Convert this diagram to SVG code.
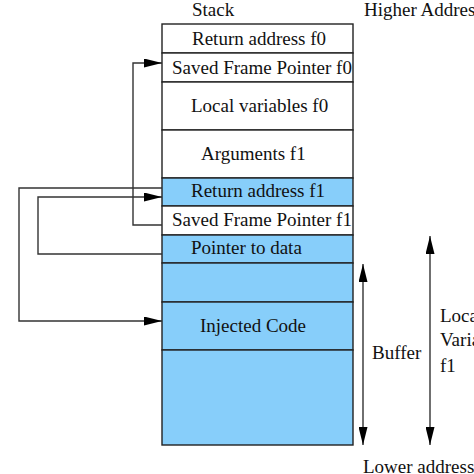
<svg xmlns="http://www.w3.org/2000/svg" width="474" height="474" viewBox="0 0 474 474">
<defs>
<marker id="ah" markerUnits="userSpaceOnUse" markerWidth="18" markerHeight="9" refX="18" refY="4.5" orient="auto-start-reverse" viewBox="0 0 18 9">
<path d="M0,0 L18,4.5 L0,9 z" fill="#000"/>
</marker>
</defs>
<style>
text{font-family:"Liberation Serif","Times New Roman",serif;font-size:19px;fill:#111}
.cell{stroke:#222;stroke-width:1.4}
.w{fill:#fff}
.b{fill:#87cefa}
.con{fill:none;stroke:#333;stroke-width:1.4}
</style>
<rect width="474" height="474" fill="#fff"/>
<text x="192" y="16">Stack</text>
<text x="364" y="16">Higher Address</text>
<g id="ret-f0"><rect class="cell w" x="162" y="24" width="191" height="29"/><text x="192" y="45">Return address f0</text></g>
<g id="sfp-f0"><rect class="cell w" x="162" y="53" width="191" height="29"/><text x="172" y="74">Saved Frame Pointer f0</text></g>
<g id="local-f0"><rect class="cell w" x="162" y="82" width="191" height="48"/><text x="191" y="112">Local variables f0</text></g>
<g id="args-f1"><rect class="cell w" x="162" y="130" width="191" height="48"/><text x="201" y="160">Arguments f1</text></g>
<g id="ret-f1"><rect class="cell b" x="162" y="178" width="191" height="28"/><text x="191" y="197">Return address f1</text></g>
<g id="sfp-f1"><rect class="cell w" x="162" y="206" width="191" height="29"/><text x="172" y="226">Saved Frame Pointer f1</text></g>
<g id="ptr"><rect class="cell b" x="162" y="235" width="191" height="28"/><text x="191" y="254">Pointer to data</text></g>
<g id="buf-top"><rect class="cell b" x="162" y="263" width="191" height="39"/></g>
<g id="inj"><rect class="cell b" x="162" y="302" width="191" height="48"/><text x="200" y="332">Injected Code</text></g>
<g id="buf-bot"><rect class="cell b" x="162" y="350" width="191" height="95"/></g>
<g id="buffer-label"><text x="372" y="359">Buffer</text></g>
<g id="local-f1-label"><text x="440" y="322">Local</text><text x="440" y="346">Variables</text><text x="440" y="372">f1</text></g>
<text x="363" y="473">Lower address</text>
<g id="connectors">
<path class="con" d="M162,225 H133 V63 H162" marker-end="url(#ah)"/>
<path class="con" d="M162,188 H19 V321 H162" marker-end="url(#ah)"/>
<path class="con" d="M162,254 H38 V197 H162" marker-end="url(#ah)"/>
<path class="con" d="M363,264 V445" marker-start="url(#ah)" marker-end="url(#ah)"/>
<path class="con" d="M430,236 V445" marker-start="url(#ah)" marker-end="url(#ah)"/>
</g>
</svg>
